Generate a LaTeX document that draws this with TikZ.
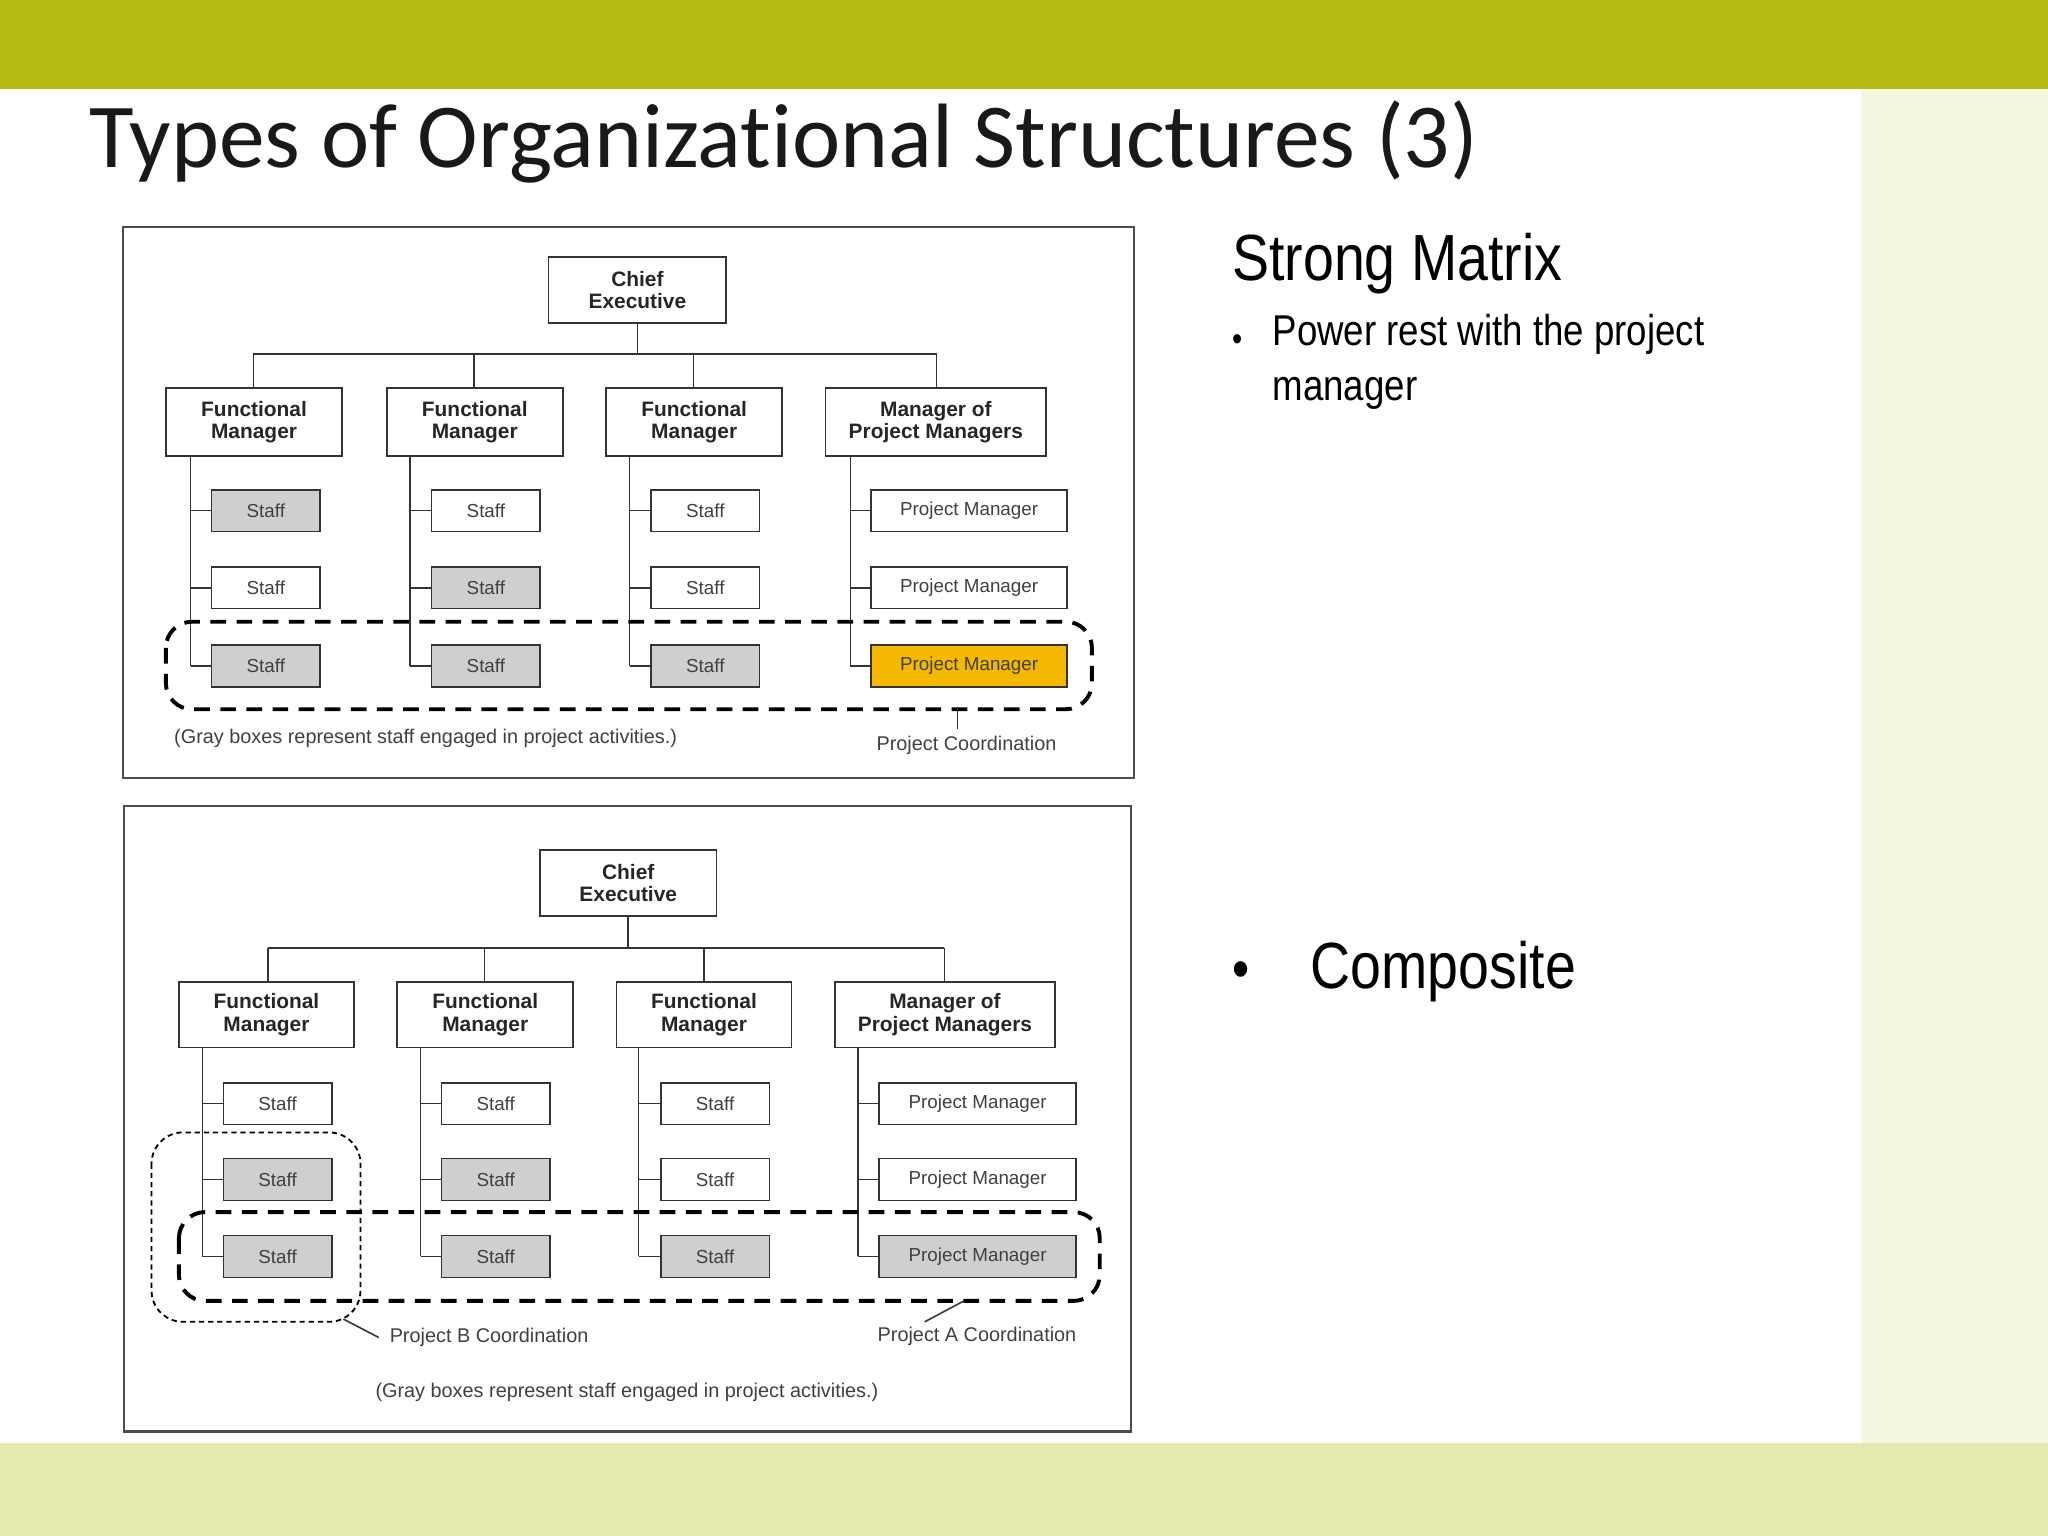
\documentclass[tikz,border=0pt]{standalone}
\usepackage{fontspec}
\setmainfont{Liberation Sans}
\newfontfamily\titlefont[Ligatures={NoCommon}]{Carlito}
\newfontfamily\narrowfont[FakeStretch=0.85]{Liberation Sans}
\usetikzlibrary{calc}
\definecolor{band}{HTML}{B6BB16}
\definecolor{lightg}{HTML}{E4EAAE}
\definecolor{grayb}{HTML}{CFCFCF}
\definecolor{pmy}{HTML}{F5B800}
\tikzset{
 box/.style={draw=black!80,line width=0.7pt,fill=white,inner sep=0pt,align=center,font=\fontsize{8}{8.6}\selectfont\bfseries,text=black!85},
 sbox/.style={draw=black!80,line width=0.6pt,fill=white,inner sep=0pt,minimum height=16pt,font=\fontsize{7.2}{8}\selectfont,text=black!75},
 gr/.style={fill=grayb},
 yel/.style={fill=pmy},
 ln/.style={draw=black!80,line width=0.6pt},
 captext/.style={font=\fontsize{7.6}{8}\selectfont,text=black!75,inner sep=0pt},
 frame/.style={draw=black!70,line width=0.8pt,fill=white}
}
\begin{document}
\begin{tikzpicture}[x=0.5pt,y=-0.5pt]
\useasboundingbox (0,0) rectangle (1568,1176);
\fill[lightg] (0,0) rectangle (1568,1176);
\fill[band] (0,0) rectangle (1568,68);
\fill[white] (0,68) rectangle (1425,1105);
\fill[lightg!40] (1425,68) rectangle (1568,1105);
\node[anchor=base west,inner sep=0pt,font=\titlefont\fontsize{35}{35}\selectfont,text=black!90] (title) at (68,128) {Types of Organizational Structures (3)};
\node[anchor=base west,inner sep=0pt,font=\narrowfont\fontsize{25}{25}\selectfont] (sm) at (943,215) {Strong Matrix};
\node[anchor=base west,inner sep=0pt,font=\narrowfont\fontsize{13}{13}\selectfont] (b1) at (943,268) {\textbullet};
\node[anchor=north west,inner sep=0pt,align=left,font=\narrowfont\fontsize{16.5}{21}\selectfont] (pw) at (974,240) {Power rest with the project\\manager};
\node[anchor=base west,inner sep=0pt,font=\narrowfont\fontsize{22}{25}\selectfont] (b2) at (943,757) {\textbullet};
\node[anchor=base west,inner sep=0pt,font=\narrowfont\fontsize{25}{25}\selectfont] (comp) at (1003,757) {Composite};

% ---------- diagram 1
\draw[frame] (94,174) rectangle (868,596);
\node[box,minimum width=68pt,minimum height=25.5pt] (ce1) at (488,222) {Chief\\Executive};
\foreach \i/\l/\r/\t in {1/127/262/{Functional\\Manager},2/296/431/{Functional\\Manager},3/464/599/{Functional\\Manager},4/632/801/{Manager of\\Project Managers}}{
  \node[box,minimum width={(\r-\l)/2*1pt},minimum height=26pt] (m1\i) at ({(\l+\r)/2},323) {\t};
}
\draw[ln] (ce1.south) -- (488,271);
\draw[ln] (194,271) -- (717,271);
\foreach \x in {194,363,531,717}{\draw[ln] (\x,271) -- (\x,297);}
\foreach \i/\s/\c/\w/\tx/\ga/\gb/\gc in {1/146/203.5/41.5/Staff/gr//gr,2/314/372/41.5/Staff//gr/gr,3/482/540/41.5/Staff///gr,4/651/742/75/Project Manager///yel}{
  \node[sbox,minimum width=\w pt,\ga] (s1\i a) at (\c,391) {\tx};
  \node[sbox,minimum width=\w pt,\gb] (s1\i b) at (\c,450) {\tx};
  \node[sbox,minimum width=\w pt,\gc] (s1\i c) at (\c,510) {\tx};
  \draw[ln] (\s,349) -- (\s,510);
  \draw[ln] (\s,391) -- (s1\i a.west);
  \draw[ln] (\s,450) -- (s1\i b.west);
  \draw[ln] (\s,510) -- (s1\i c.west);
}
\draw[line width=1.5pt,dash pattern=on 6pt off 4pt,rounded corners=10pt] (127,476) rectangle (836,543);
\node[captext,anchor=west] (c1) at (133,565) {(Gray boxes represent staff engaged in project activities.)};
\node[captext] (pc1) at (740,571) {Project Coordination};
\draw[ln] (733,543) -- (733,558);

% ---------- diagram 2
\draw[frame] (95,617) rectangle (866,1096);
\node[box,minimum width=67.5pt,minimum height=25.5pt] (ce2) at (481,676) {Chief\\Executive};
\foreach \i/\l/\r/\t in {1/137/271/{Functional\\Manager},2/304/439/{Functional\\Manager},3/472/606/{Functional\\Manager},4/639/808/{Manager of\\Project Managers}}{
  \node[box,minimum width={(\r-\l)/2*1pt},minimum height=25pt] (m2\i) at ({(\l+\r)/2},777) {\t};
}
\draw[ln] (ce2.south) -- (481,726);
\draw[ln] (205,726) -- (723,726);
\foreach \x in {205,371,539,723}{\draw[ln] (\x,726) -- (\x,752);}
\foreach \i/\s/\c/\w/\tx/\ga/\gb/\gc in {1/155/212.5/41.5/Staff//gr/gr,2/322/379.5/41.5/Staff//gr/gr,3/489/547.5/41.5/Staff///gr,4/657/748.5/75.5/Project Manager///gr}{
  \node[sbox,minimum width=\w pt,\ga] (s2\i a) at (\c,845) {\tx};
  \node[sbox,minimum width=\w pt,\gb] (s2\i b) at (\c,903) {\tx};
  \node[sbox,minimum width=\w pt,\gc] (s2\i c) at (\c,962) {\tx};
  \draw[ln] (\s,802) -- (\s,962);
  \draw[ln] (\s,845) -- (s2\i a.west);
  \draw[ln] (\s,903) -- (s2\i b.west);
  \draw[ln] (\s,962) -- (s2\i c.west);
}
\draw[line width=1.5pt,dash pattern=on 6pt off 4pt,rounded corners=10pt] (137,928) rectangle (842,996);
\draw[line width=0.7pt,dash pattern=on 2pt off 1.5pt,rounded corners=12pt] (116,867) rectangle (276,1012);
\node[captext,anchor=west] (pb) at (298,1024) {Project B Coordination};
\draw[ln] (263,1010) -- (290,1024);
\node[captext] (pa) at (748,1023) {Project A Coordination};
\draw[ln] (738,996) -- (708,1012);
\node[captext] (c2) at (480,1066) {(Gray boxes represent staff engaged in project activities.)};
\end{tikzpicture}
\end{document}
